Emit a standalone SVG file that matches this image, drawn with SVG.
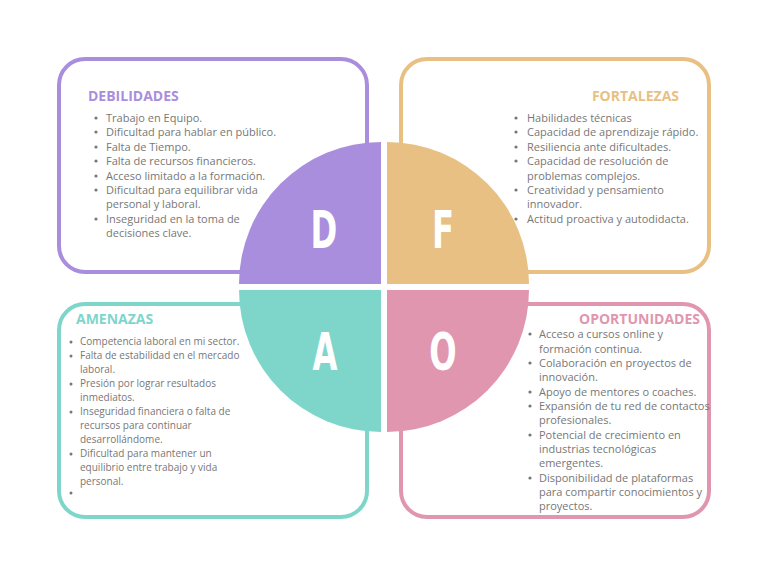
<svg xmlns="http://www.w3.org/2000/svg" width="768" height="576" viewBox="0 0 768 576">
<style>
.box{fill:#fff;stroke-width:4}
.t{font-family:"Open Sans",sans-serif;font-size:11px;fill:#777}
.s{font-family:"Open Sans",sans-serif;font-size:10px;fill:#777}
.h{font-family:"Open Sans",sans-serif;font-size:14px;font-weight:bold}
.L{font-family:"DejaVu Sans",sans-serif;font-weight:bold;font-size:52px;fill:#fff;text-anchor:middle}
</style>
<rect width="768" height="576" fill="#fff"/>
<g id="debilidades">
<rect class="box" x="59" y="59" width="308" height="213" rx="26" stroke="#A98EDD"/>
<text class="h" x="88" y="101" fill="#A98EDD">DEBILIDADES</text>
<g class="t">
<text x="106" y="122">Trabajo en Equipo.</text>
<text x="106" y="136">Dificultad para hablar en público.</text>
<text x="106" y="151">Falta de Tiempo.</text>
<text x="106" y="165">Falta de recursos financieros.</text>
<text x="106" y="180">Acceso limitado a la formación.</text>
<text x="106" y="194">Dificultad para equilibrar vida</text>
<text x="106" y="208">personal y laboral.</text>
<text x="106" y="223">Inseguridad en la toma de</text>
<text x="106" y="237">decisiones clave.</text>
</g>
<g fill="#777"><circle cx="96" cy="118" r="1.6"/><circle cx="96" cy="132" r="1.6"/><circle cx="96" cy="147" r="1.6"/><circle cx="96" cy="161" r="1.6"/><circle cx="96" cy="176" r="1.6"/><circle cx="96" cy="190" r="1.6"/><circle cx="96" cy="219" r="1.6"/></g>
</g>
<g id="fortalezas">
<rect class="box" x="401" y="59" width="308" height="213" rx="26" stroke="#E8C083"/>
<text class="h" x="679" y="101" fill="#E8C083" text-anchor="end">FORTALEZAS</text>
<g class="t">
<text x="527" y="122">Habilidades técnicas</text>
<text x="527" y="136">Capacidad de aprendizaje rápido.</text>
<text x="527" y="151">Resiliencia ante dificultades.</text>
<text x="527" y="165">Capacidad de resolución de</text>
<text x="527" y="180">problemas complejos.</text>
<text x="527" y="194">Creatividad y pensamiento</text>
<text x="527" y="208">innovador.</text>
<text x="527" y="223">Actitud proactiva y autodidacta.</text>
</g>
<g fill="#777"><circle cx="516" cy="118" r="1.6"/><circle cx="516" cy="132" r="1.6"/><circle cx="516" cy="147" r="1.6"/><circle cx="516" cy="161" r="1.6"/><circle cx="516" cy="190" r="1.6"/><circle cx="516" cy="219" r="1.6"/></g>
</g>
<g id="amenazas">
<rect class="box" x="59" y="304" width="308" height="213" rx="26" stroke="#7ED6CB"/>
<text class="h" x="76" y="324" fill="#7ED6CB">AMENAZAS</text>
<g class="s">
<text x="80" y="345">Competencia laboral en mi sector.</text>
<text x="80" y="359">Falta de estabilidad en el mercado</text>
<text x="80" y="373">laboral.</text>
<text x="80" y="387">Presión por lograr resultados</text>
<text x="80" y="401">inmediatos.</text>
<text x="80" y="415">Inseguridad financiera o falta de</text>
<text x="80" y="429">recursos para continuar</text>
<text x="80" y="443">desarrollándome.</text>
<text x="80" y="457">Dificultad para mantener un</text>
<text x="80" y="471">equilibrio entre trabajo y vida</text>
<text x="80" y="485">personal.</text>
</g>
<g fill="#777"><circle cx="71" cy="342" r="1.5"/><circle cx="71" cy="356" r="1.5"/><circle cx="71" cy="384" r="1.5"/><circle cx="71" cy="412" r="1.5"/><circle cx="71" cy="454" r="1.5"/><circle cx="71" cy="493" r="1.5"/></g>
</g>
<g id="oportunidades">
<rect class="box" x="401" y="304" width="308" height="213" rx="26" stroke="#E096AF"/>
<text class="h" x="700" y="324" fill="#E096AF" text-anchor="end">OPORTUNIDADES</text>
<g class="t">
<text x="539" y="338">Acceso a cursos online y</text>
<text x="539" y="353">formación continua.</text>
<text x="539" y="367">Colaboración en proyectos de</text>
<text x="539" y="381">innovación.</text>
<text x="539" y="396">Apoyo de mentores o coaches.</text>
<text x="539" y="410">Expansión de tu red de contactos</text>
<text x="539" y="424">profesionales.</text>
<text x="539" y="439">Potencial de crecimiento en</text>
<text x="539" y="453">industrias tecnológicas</text>
<text x="539" y="467">emergentes.</text>
<text x="539" y="482">Disponibilidad de plataformas</text>
<text x="539" y="496">para compartir conocimientos y</text>
<text x="539" y="510">proyectos.</text>
</g>
<g fill="#777"><circle cx="530" cy="334" r="1.6"/><circle cx="530" cy="363" r="1.6"/><circle cx="530" cy="392" r="1.6"/><circle cx="530" cy="406" r="1.6"/><circle cx="530" cy="435" r="1.6"/><circle cx="530" cy="478" r="1.6"/></g>
</g>
<g id="quad-d">
<path d="M381 284 L239 284 A142 142 0 0 1 381 142 Z" fill="#A98EDD"/>
<text class="L" transform="translate(324 248) scale(0.62 1)">D</text>
</g>
<g id="quad-f">
<path d="M387 284 L387 142 A142 142 0 0 1 529 284 Z" fill="#E8C083"/>
<text class="L" transform="translate(443 248) scale(0.62 1)">F</text>
</g>
<g id="quad-a">
<path d="M381 290 L381 432 A142 142 0 0 1 239 290 Z" fill="#7ED6CB"/>
<text class="L" transform="translate(325 370) scale(0.62 1)">A</text>
</g>
<g id="quad-o">
<path d="M387 290 L529 290 A142 142 0 0 1 387 432 Z" fill="#E096AF"/>
<text class="L" transform="translate(443 370) scale(0.62 1)">O</text>
</g>
<g id="connectors"/>
</svg>
